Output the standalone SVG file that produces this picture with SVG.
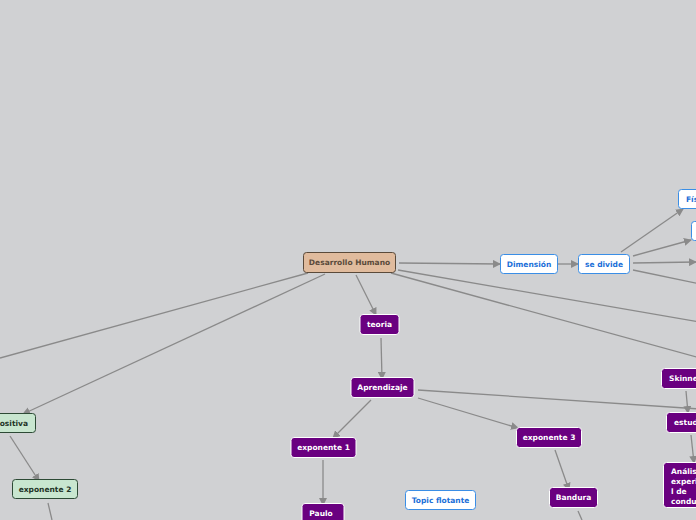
<svg xmlns="http://www.w3.org/2000/svg" width="696" height="520" viewBox="0 0 696 520">
<style>
text{font-family:"DejaVu Sans",Verdana,sans-serif;font-weight:bold;font-size:7.5px;text-anchor:middle}
.p rect{fill:#6a0080;stroke:#fff;stroke-width:1}
.p text{fill:#fff}
.w rect{fill:#fff;stroke:#3a8ee6;stroke-width:1}
.w text{fill:#1a6fd8}
.g rect{fill:#c8e6cf;stroke:#2d4a35;stroke-width:1}
.g text{fill:#1e3326}
#c line{stroke:#8a8a8a;stroke-width:1.3}
</style>
<defs><marker id="a" markerWidth="8" markerHeight="8" refX="7" refY="4" orient="auto" markerUnits="userSpaceOnUse"><path d="M0,0L8,4L0,8z" fill="#8a8a8a"/></marker></defs>
<rect width="696" height="520" fill="#d0d1d3"/>
<g id="c">
<line x1="399" y1="263" x2="500" y2="264" marker-end="url(#a)"/>
<line x1="557" y1="264" x2="578" y2="264" marker-end="url(#a)"/>
<line x1="621" y1="252" x2="683" y2="209" marker-end="url(#a)"/>
<line x1="633" y1="256" x2="691" y2="240" marker-end="url(#a)"/>
<line x1="633" y1="263" x2="696" y2="262" marker-end="url(#a)"/>
<line x1="633" y1="270" x2="700" y2="284"/>
<line x1="398" y1="270" x2="700" y2="322"/>
<line x1="391" y1="273" x2="700" y2="358"/>
<line x1="308" y1="273" x2="0" y2="358"/>
<line x1="325" y1="274" x2="23" y2="414" marker-end="url(#a)"/>
<line x1="356" y1="275" x2="376" y2="315" marker-end="url(#a)"/>
<line x1="381" y1="338" x2="382" y2="379" marker-end="url(#a)"/>
<line x1="371" y1="400" x2="333" y2="438" marker-end="url(#a)"/>
<line x1="418" y1="390" x2="700" y2="409"/>
<line x1="418" y1="398" x2="518" y2="428" marker-end="url(#a)"/>
<line x1="323" y1="460" x2="323" y2="505" marker-end="url(#a)"/>
<line x1="555" y1="450" x2="569" y2="490" marker-end="url(#a)"/>
<line x1="578" y1="511" x2="582" y2="520"/>
<line x1="686" y1="391" x2="688" y2="413" marker-end="url(#a)"/>
<line x1="691" y1="435" x2="694" y2="463" marker-end="url(#a)"/>
<line x1="10" y1="436" x2="39" y2="481" marker-end="url(#a)"/>
<line x1="48" y1="503" x2="52" y2="520"/>
</g>
<g id="dh"><rect x="303.5" y="252.5" width="92" height="20" rx="3" fill="#e0bb9d" stroke="#5a4a3a"/><text x="349.5" y="265" fill="#5a4a3a">Desarrollo Humano</text></g>
<g id="teoria" class="p"><rect x="360" y="314.5" width="39" height="20" rx="3"/><text x="379.5" y="327">teoria</text></g>
<g id="aprendizaje" class="p"><rect x="351" y="377.5" width="63" height="20" rx="3"/><text x="382.5" y="390">Aprendizaje</text></g>
<g id="exp1" class="p"><rect x="291" y="437.5" width="65" height="20" rx="3"/><text x="323.5" y="450">exponente 1</text></g>
<g id="paulo" class="p"><rect x="302" y="503.5" width="42" height="22" rx="3"/><text x="321" y="516">Paulo</text></g>
<g id="exp3" class="p"><rect x="516.5" y="427.5" width="65" height="20" rx="3"/><text x="549" y="440">exponente 3</text></g>
<g id="bandura" class="p"><rect x="549.5" y="487.5" width="48" height="20" rx="3"/><text x="573.5" y="500">Bandura</text></g>
<g id="skinner" class="p"><rect x="661.5" y="368.5" width="45" height="20" rx="3"/><text x="669" y="381" style="text-anchor:start">Skinner</text></g>
<g id="estud" class="p"><rect x="666.5" y="412.5" width="40" height="20" rx="3"/><text x="674" y="425" style="text-anchor:start">estudia</text></g>
<g id="analisis" class="p"><rect x="663.5" y="462.5" width="45" height="45" rx="3"/><text x="671" y="474" style="text-anchor:start">Análisis</text><text x="671" y="484" style="text-anchor:start">experimenta</text><text x="671" y="494" style="text-anchor:start">l de</text><text x="671" y="504" style="text-anchor:start">conducta</text></g>
<g id="topic" class="w"><rect x="405.5" y="490.5" width="70" height="19" rx="3"/><text x="440.5" y="502.5">Topic flotante</text></g>
<g id="dimension" class="w"><rect x="500.5" y="254.5" width="57" height="19" rx="3"/><text x="529" y="267">Dimensión</text></g>
<g id="sedivide" class="w"><rect x="578.5" y="254.5" width="51" height="19" rx="3"/><text x="604" y="267">se divide</text></g>
<g id="fisica" class="w"><rect x="678.5" y="189.5" width="30" height="19" rx="3"/><text x="686" y="202" style="text-anchor:start">Física</text></g>
<g id="n2" class="w"><rect x="691.5" y="221.5" width="20" height="19" rx="3"/></g>
<g id="positiva" class="g"><rect x="-40" y="413.5" width="75.5" height="19" rx="3"/><text x="28" y="426" style="text-anchor:end">positiva</text></g>
<g id="exp2" class="g"><rect x="12.5" y="479.5" width="65" height="19" rx="3"/><text x="45" y="492">exponente 2</text></g>
</svg>
